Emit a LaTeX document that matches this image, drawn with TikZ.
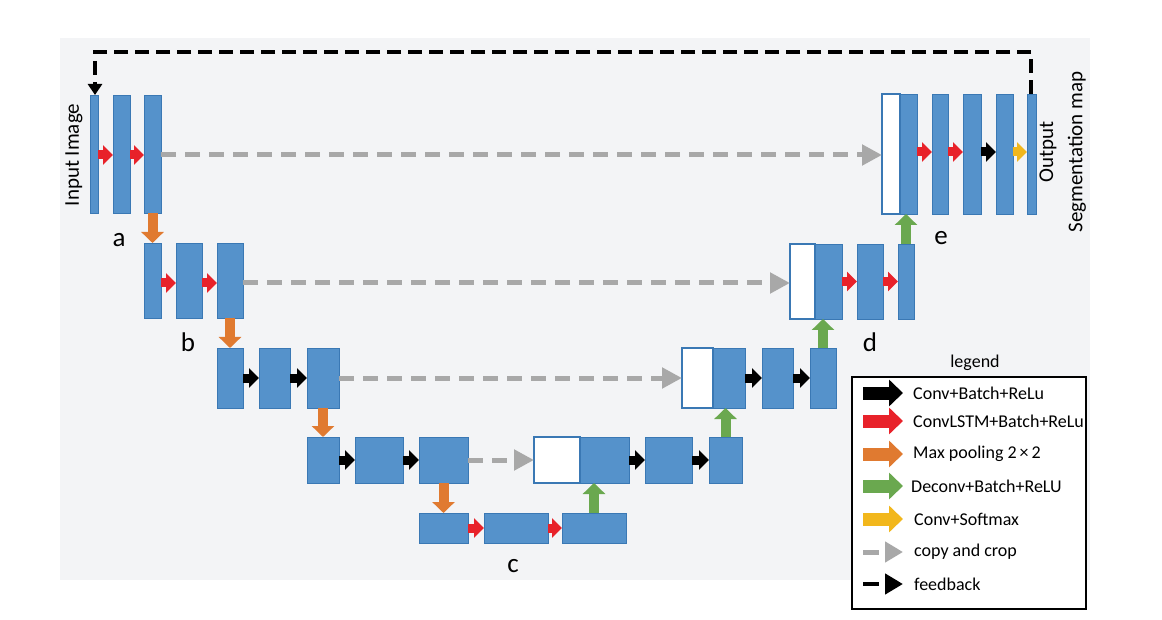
\documentclass[tikz,border=0pt]{standalone}
\usepackage{fontspec}
\setmainfont{Carlito}
\usetikzlibrary{arrows.meta}
\definecolor{bfill}{HTML}{5592CB}
\definecolor{bdraw}{HTML}{3A78B4}
\definecolor{cred}{HTML}{E8222A}
\definecolor{corange}{HTML}{E07A30}
\definecolor{cgreen}{HTML}{6AA84F}
\definecolor{cyellow}{HTML}{F2B71C}
\definecolor{cgray}{HTML}{A8A8A8}
\definecolor{panel}{HTML}{F3F4F6}
\newcommand{\blk}[5]{\node[blk,minimum width={#4-#2},minimum height={#5-#3}] (#1) at ({(#2+#4)/2},{(#3+#5)/2}) {};}
\newcommand{\wblk}[5]{\node[wblk,minimum width={#4-#2},minimum height={#5-#3}] (#1) at ({(#2+#4)/2},{(#3+#5)/2}) {};}
\tikzset{
  blk/.style={draw=bdraw,fill=bfill,line width=0.8pt,inner sep=0pt,outer sep=0pt},
  wblk/.style={draw=bdraw,fill=white,line width=1.2pt,inner sep=0pt,outer sep=0pt},
  fat/.style={line width=9pt,-{Triangle[length=10pt,width=19pt]},#1},
  vfat/.style={line width=10pt,-{Triangle[length=11pt,width=22pt]},#1},
  lfat/.style={line width=13pt,-{Triangle[length=14pt,width=26pt]},#1},
  copy/.style={line width=5pt,cgray,dash pattern=on 15pt off 9pt,-{Triangle[length=20pt,width=20pt]}},
  fb/.style={line width=4pt,black,dash pattern=on 14pt off 7pt,-{Triangle[length=11pt,width=14pt]}},
  lbl/.style={font=\fontsize{27}{30}\selectfont,inner sep=0pt},
  rot/.style={font=\fontsize{21}{24}\selectfont,rotate=90,inner sep=0pt},
  ltxt/.style={font=\fontsize{18}{21}\selectfont,anchor=west,inner sep=0pt},
}
\begin{document}
\begin{tikzpicture}[x=1pt,y=-1pt]
\useasboundingbox (0,0) rectangle (1162,620);
\fill[white] (0,0) rectangle (1162,620);
\fill[panel] (60,38) rectangle (1090,580);
% row a
\blk{a1}{90}{95}{98}{213}\blk{a2}{113}{95}{130}{213}\blk{a3}{144}{95}{161}{213}
% row b
\blk{b1}{144}{243}{161}{318}\blk{b2}{176}{243}{202}{318}\blk{b3}{217}{243}{243}{318}
% row 3
\blk{l3a}{217}{348}{243}{408}\blk{l3b}{259}{348}{290}{408}\blk{l3c}{307}{348}{339}{408}
% row 4
\blk{l4a}{307}{437}{339}{483}\blk{l4b}{355}{437}{403}{483}\blk{l4c}{419}{437}{468}{483}
% row c
\blk{c1}{419}{513}{468}{543}\blk{c2}{484}{513}{548}{543}\blk{c3}{562}{513}{626}{543}
% right row 4
\wblk{r4w}{534}{437}{580}{483}\blk{r4}{580}{437}{629}{483}\blk{r4b}{645}{437}{692}{483}\blk{r4c}{709}{437}{742}{483}
% right row 3
\wblk{r3w}{682}{348}{713}{408}\blk{r3}{713}{348}{745}{408}\blk{r3b}{762}{348}{793}{408}\blk{r3c}{810}{348}{836}{408}
% right row d
\wblk{dw}{790}{244}{815}{319}\blk{d1}{815}{244}{842}{319}\blk{d2}{857}{244}{883}{319}\blk{d3}{898}{244}{914}{319}
% right row e
\wblk{ew}{882}{94}{900}{214}\blk{e1}{900}{94}{917}{214}\blk{e2}{932}{94}{948}{214}\blk{e3}{963}{94}{981}{214}\blk{e4}{996}{94}{1013}{214}\blk{e5}{1027}{94}{1036}{214}
% horizontal arrows
\draw[fat=cred] (a1.east|-0,155) -- (a2.west|-0,155);
\draw[fat=cred] (a2.east|-0,155) -- (a3.west|-0,155);
\draw[fat=cred] (b1.east|-0,283) -- (b2.west|-0,283);
\draw[fat=cred] (b2.east|-0,283) -- (b3.west|-0,283);
\draw[fat=black] (l3a.east) -- (l3b.west);
\draw[fat=black] (l3b.east) -- (l3c.west);
\draw[fat=black] (l4a.east) -- (l4b.west);
\draw[fat=black] (l4b.east) -- (l4c.west);
\draw[fat=cred] (c1.east) -- (c2.west);
\draw[fat=cred] (c2.east) -- (c3.west);
\draw[fat=black] (r4.east) -- (r4b.west);
\draw[fat=black] (r4b.east) -- (r4c.west);
\draw[fat=black] (r3.east) -- (r3b.west);
\draw[fat=black] (r3b.east) -- (r3c.west);
\draw[fat=cred] (d1.east) -- (d2.west);
\draw[fat=cred] (d2.east) -- (d3.west);
\draw[fat=cred] (e1.east|-0,152) -- (e2.west|-0,152);
\draw[fat=cred] (e2.east|-0,152) -- (e3.west|-0,152);
\draw[fat=black] (e3.east|-0,152) -- (e4.west|-0,152);
\draw[fat=cyellow] (e4.east|-0,152) -- (e5.west|-0,152);
% copy and crop
\draw[copy] (a3.east|-0,155) -- (ew.west|-0,155);
\draw[copy] (b3.east|-0,283) -- (dw.west|-0,283);
\draw[copy] (l3c.east) -- (r3w.west);
\draw[copy] (l4c.east) -- (r4w.west);
% pooling
\draw[vfat=corange] (a3.south) -- (b1.north);
\draw[vfat=corange] (b3.south) -- (l3a.north);
\draw[vfat=corange] (l3c.south) -- (l4a.north);
\draw[vfat=corange] (l4c.south) -- (c1.north);
% deconv
\draw[vfat=cgreen] (c3.north) -- (c3.north|-r4.south);
\draw[vfat=cgreen] (r4c.north) -- (r4c.north|-r3.south);
\draw[vfat=cgreen] (r3c.north) -- (r3c.north|-d1.south);
\draw[vfat=cgreen] (d3.north) -- (d3.north|-e1.south);
% feedback
\coordinate (fr) at (1031,52);
\coordinate (fl) at (95,52);
\draw[fb] (e5.north-|1031,0) -- (fr) -- (fl) -- (a1.north-|95,0);
% labels
\node[lbl] (la) at (119,240) {a};
\node[lbl] (lb) at (188,342) {b};
\node[lbl] (lc) at (513,566) {c};
\node[lbl] (ld) at (870,342) {d};
\node[lbl] (le) at (941,238) {e};
\node[rot] (tin) at (74,155) {Input Image};
\node[rot] (tout) at (1048,152) {Output};
\node[rot] (tseg) at (1077,152) {Segmentation map};
% legend
\node[font=\fontsize{18}{21}\selectfont,inner sep=0pt] (lt) at (975,363) {legend};
\draw[line width=2.5pt,fill=white] (852,377) rectangle (1086,609);
\coordinate (s1) at (863,393);\coordinate (t1) at (903,393);
\coordinate (s2) at (863,421);\coordinate (t2) at (903,421);
\coordinate (s3) at (863,454);\coordinate (t3) at (903,454);
\coordinate (s4) at (863,486);\coordinate (t4) at (903,486);
\coordinate (s5) at (863,519);\coordinate (t5) at (903,519);
\coordinate (s6) at (863,552);\coordinate (t6) at (903,552);
\coordinate (s7) at (863,584);\coordinate (t7) at (903,584);
\draw[lfat=black] (s1) -- (t1);
\draw[lfat=cred] (s2) -- (t2);
\draw[lfat=corange] (s3) -- (t3);
\draw[lfat=cgreen] (s4) -- (t4);
\draw[lfat=cyellow] (s5) -- (t5);
\draw[line width=5pt,cgray,dash pattern=on 16pt off 6pt,-{Triangle[length=18pt,width=20pt]}] (s6) -- (t6);
\draw[line width=4.5pt,black,dash pattern=on 16pt off 6pt,-{Triangle[length=18pt,width=20pt]}] (s7) -- (t7);
\node[ltxt] (g1) at (913,393) {Conv+Batch+ReLu};
\node[ltxt] (g2) at (913,421) {ConvLSTM+Batch+ReLu};
\node[ltxt] (g3) at (913,454) {Max pooling 2\,×\,2};
\node[ltxt] (g4) at (911,486) {Deconv+Batch+ReLU};
\node[ltxt] (g5) at (914,519) {Conv+Softmax};
\node[ltxt] (g6) at (914,552) {copy and crop};
\node[ltxt] (g7) at (914,584) {feedback};
\end{tikzpicture}
\end{document}
